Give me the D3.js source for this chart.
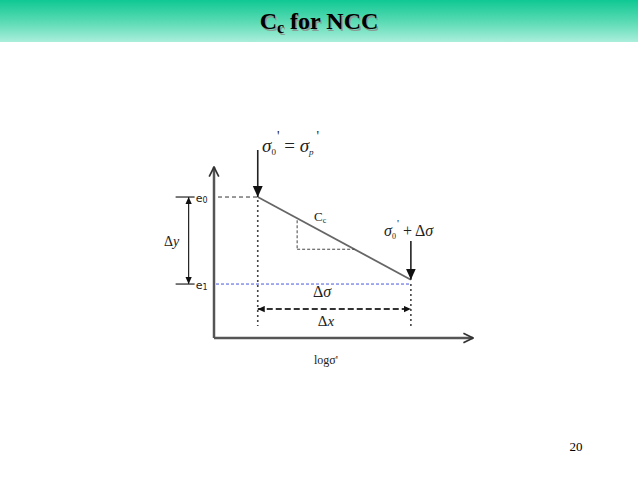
<!DOCTYPE html>
<html>
<head>
<meta charset="utf-8">
<script src="https://cdn.jsdelivr.net/npm/d3@7"></script>
<style>
  body { margin: 0; background: #fff; }
  svg { display: block; }
</style>
</head>
<body>
<script>
// NCC line in (log sigma', e) units
var logSigma = [1.0, 4.5];       // sigma0' = sigmap', sigma0' + dsigma
var voidRatio = [1.0, 0.62];     // e along the NCC line
var eLevels = [1.0, 0.6];        // e0, e1
var eLabels = ["0", "1"];
var slopeCorner = [1.9, 0.76];   // corner of the Cc slope triangle
var dyAt = -0.58;                // x position of the delta-y dimension
var xDomain = [0, 5.92];
var yDomain = [0.352, 1.138];

var W = 638, H = 478;
var svg = d3.select("body").append("svg").attr("width", W).attr("height", H);

// header band
var grad = svg.append("defs").append("linearGradient")
    .attr("id", "hdr").attr("x1", 0).attr("y1", 0).attr("x2", 0).attr("y2", 1);
grad.append("stop").attr("offset", "0%").attr("stop-color", "#0fc893");
grad.append("stop").attr("offset", "55%").attr("stop-color", "#5fdcb6");
grad.append("stop").attr("offset", "100%").attr("stop-color", "#aaeedb");
svg.append("rect").attr("width", W).attr("height", 42).attr("fill", "url(#hdr)");

function title(dx, dy, col) {
    var t = svg.append("text")
        .attr("x", 319 + dx).attr("y", 29 + dy)
        .attr("text-anchor", "middle")
        .style("font-family", "'Liberation Serif', 'Times New Roman', serif")
        .style("font-weight", "bold").style("font-size", "24px")
        .attr("fill", col);
    t.append("tspan").text("C");
    t.append("tspan").attr("dy", 4).style("font-size", "16px").text("c");
    t.append("tspan").attr("dy", -4).text(" for NCC");
}
title(1.5, 1.5, "#8a9a94");
title(0, 0, "#000");

svg.append("text").attr("x", 576).attr("y", 451).attr("text-anchor", "middle")
    .style("font-family", "'Liberation Serif', serif").style("font-size", "13px")
    .text("20");

var x = d3.scaleLinear().domain(xDomain).range([214, 473]);
var y = d3.scaleLinear().domain(yDomain).range([338, 167]);

var defs = svg.select("defs");
function marker(id, size, col) {
    defs.append("marker").attr("id", id)
        .attr("viewBox", "0 0 10 10").attr("refX", 10).attr("refY", 5)
        .attr("markerWidth", size).attr("markerHeight", size)
        .attr("markerUnits", "userSpaceOnUse").attr("orient", "auto-start-reverse")
        .append("path").attr("d", "M0,0.5 L10,5 L0,9.5 Z").attr("fill", col);
}
function openMarker(id) {
    defs.append("marker").attr("id", id)
        .attr("viewBox", "0 0 10 10").attr("refX", 9).attr("refY", 5)
        .attr("markerWidth", 12).attr("markerHeight", 12)
        .attr("markerUnits", "userSpaceOnUse").attr("orient", "auto")
        .append("path").attr("d", "M1,1 L9,5 L1,9").attr("fill", "none")
        .attr("stroke", "#333").attr("stroke-width", 1.4);
}
marker("solid", 11, "#111");
marker("small", 7, "#111");
openMarker("open");

var g = svg.append("g");
function line(x1, y1, x2, y2) {
    return g.append("line").attr("x1", x1).attr("y1", y1).attr("x2", x2).attr("y2", y2)
        .attr("stroke", "#222").attr("stroke-width", 1);
}

// axes
var x0 = x(xDomain[0]), yb = y(yDomain[0]);
line(x0, yb, x0, y(yDomain[1])).attr("stroke", "#555").attr("stroke-width", 2.5)
    .attr("marker-end", "url(#open)");
line(x0, yb, x(xDomain[1]), yb).attr("stroke", "#555").attr("stroke-width", 2.5)
    .attr("marker-end", "url(#open)");

// e0 dashed guide
line(x0 + 4, y(eLevels[0]), x(logSigma[0]), y(eLevels[0]))
    .attr("stroke-dasharray", "4,3").attr("stroke", "#333");
// e1 blue guide
line(x0 + 2, y(eLevels[1]), x(logSigma[1]), y(eLevels[1]))
    .attr("stroke", "#3344dd").attr("stroke-dasharray", "3,2").attr("stroke-width", 0.9);

// vertical dotted guides
var ydx = y(eLevels[1]) + 25;
line(x(logSigma[0]), y(voidRatio[0]) + 3, x(logSigma[0]), yb - 12)
    .attr("stroke-dasharray", "2,3").attr("stroke-width", 1.6).attr("stroke", "#444");
line(x(logSigma[1]), y(eLevels[1]), x(logSigma[1]), yb - 12)
    .attr("stroke-dasharray", "2,3").attr("stroke-width", 1.6).attr("stroke", "#444");

// NCC line
g.append("path")
    .datum(d3.zip(logSigma, voidRatio))
    .attr("d", d3.line().x(function(d) { return x(d[0]); }).y(function(d) { return y(d[1]); }))
    .attr("fill", "none").attr("stroke", "#666").attr("stroke-width", 1.8);

// slope triangle
var cornerLineX = logSigma[0] + (slopeCorner[1] - voidRatio[0]) /
    ((voidRatio[1] - voidRatio[0]) / (logSigma[1] - logSigma[0]));
var slopeY = voidRatio[0] + (slopeCorner[0] - logSigma[0]) *
    (voidRatio[1] - voidRatio[0]) / (logSigma[1] - logSigma[0]);
line(x(slopeCorner[0]), y(slopeY) + 2, x(slopeCorner[0]), y(slopeCorner[1]))
    .attr("stroke-dasharray", "3,2").attr("stroke", "#444");
line(x(slopeCorner[0]), y(slopeCorner[1]), x(cornerLineX), y(slopeCorner[1]))
    .attr("stroke-dasharray", "3,2").attr("stroke", "#444");

// load arrows
line(x(logSigma[0]), 150, x(logSigma[0]), y(voidRatio[0]))
    .attr("stroke-width", 1.6).attr("marker-end", "url(#solid)");
line(x(logSigma[1]), 241, x(logSigma[1]), y(voidRatio[1]))
    .attr("stroke-width", 1.6).attr("marker-end", "url(#solid)");

// delta x dimension
line(x(logSigma[0]), ydx, x(logSigma[1]), ydx)
    .attr("stroke-dasharray", "6,3").attr("stroke-width", 2).attr("stroke", "#333")
    .attr("marker-start", "url(#small)").attr("marker-end", "url(#small)");

// delta y dimension
var xd = x(dyAt);
line(xd, y(eLevels[0]), xd, y(eLevels[1]))
    .attr("stroke-width", 1.2)
    .attr("marker-start", "url(#small)").attr("marker-end", "url(#small)");
eLevels.forEach(function(e, i) {
    line(xd - 13, y(e), xd + 6, y(e)).attr("stroke-width", 1.2);
    var t = svg.append("text").attr("x", xd + 7).attr("y", y(e) + 5)
        .style("font-family", "'DejaVu Sans', sans-serif").style("font-size", "11px")
        .attr("fill", "#222");
    t.append("tspan").text("e");
    t.append("tspan").attr("dy", 1).style("font-size", "8px").text(eLabels[i]);
});

function serif(tx, ty, size, anchor) {
    return svg.append("text").attr("x", tx).attr("y", ty)
        .attr("text-anchor", anchor || "start")
        .style("font-family", "'Liberation Serif', 'Times New Roman', serif")
        .style("font-size", size + "px").attr("fill", "#222");
}

var dyl = serif(164, 246, 14);
dyl.append("tspan").text("\u0394");
dyl.append("tspan").style("font-style", "italic").text("y");

// sigma0' = sigmap'
var s1 = serif(262, 152, 19);
s1.append("tspan").style("font-style", "italic").text("\u03c3");
s1.append("tspan").attr("dy", 3).style("font-size", "9px").text("0");
s1.append("tspan").attr("dy", -14).attr("dx", 1).style("font-size", "14px").text("'");
s1.append("tspan").attr("dy", 11).text(" = ");
s1.append("tspan").style("font-style", "italic").text("\u03c3");
s1.append("tspan").attr("dy", 3).style("font-size", "9px").style("font-style", "italic").text("p");
s1.append("tspan").attr("dy", -14).attr("dx", 3).style("font-size", "14px").text("'");

// sigma0' + dsigma
var s2 = serif(384, 236, 16);
s2.append("tspan").style("font-style", "italic").text("\u03c3");
s2.append("tspan").attr("dy", 3).style("font-size", "8px").text("0");
s2.append("tspan").attr("dy", -12).attr("dx", 1).style("font-size", "11px").text("'");
s2.append("tspan").attr("dy", 9).text("  + \u0394");
s2.append("tspan").style("font-style", "italic").text("\u03c3");

// Cc
var cc = serif(314, 221, 13);
cc.append("tspan").text("C");
cc.append("tspan").attr("dy", 2).style("font-size", "8px").text("c");

var ds = serif(322, 297, 16, "middle");
ds.append("tspan").text("\u0394");
ds.append("tspan").style("font-style", "italic").text("\u03c3");

var dxl = serif(326, 326, 15, "middle");
dxl.append("tspan").text("\u0394");
dxl.append("tspan").style("font-style", "italic").text("x");

serif(326, 364, 12, "middle").text("log\u03c3'");
</script>
</body>
</html>
